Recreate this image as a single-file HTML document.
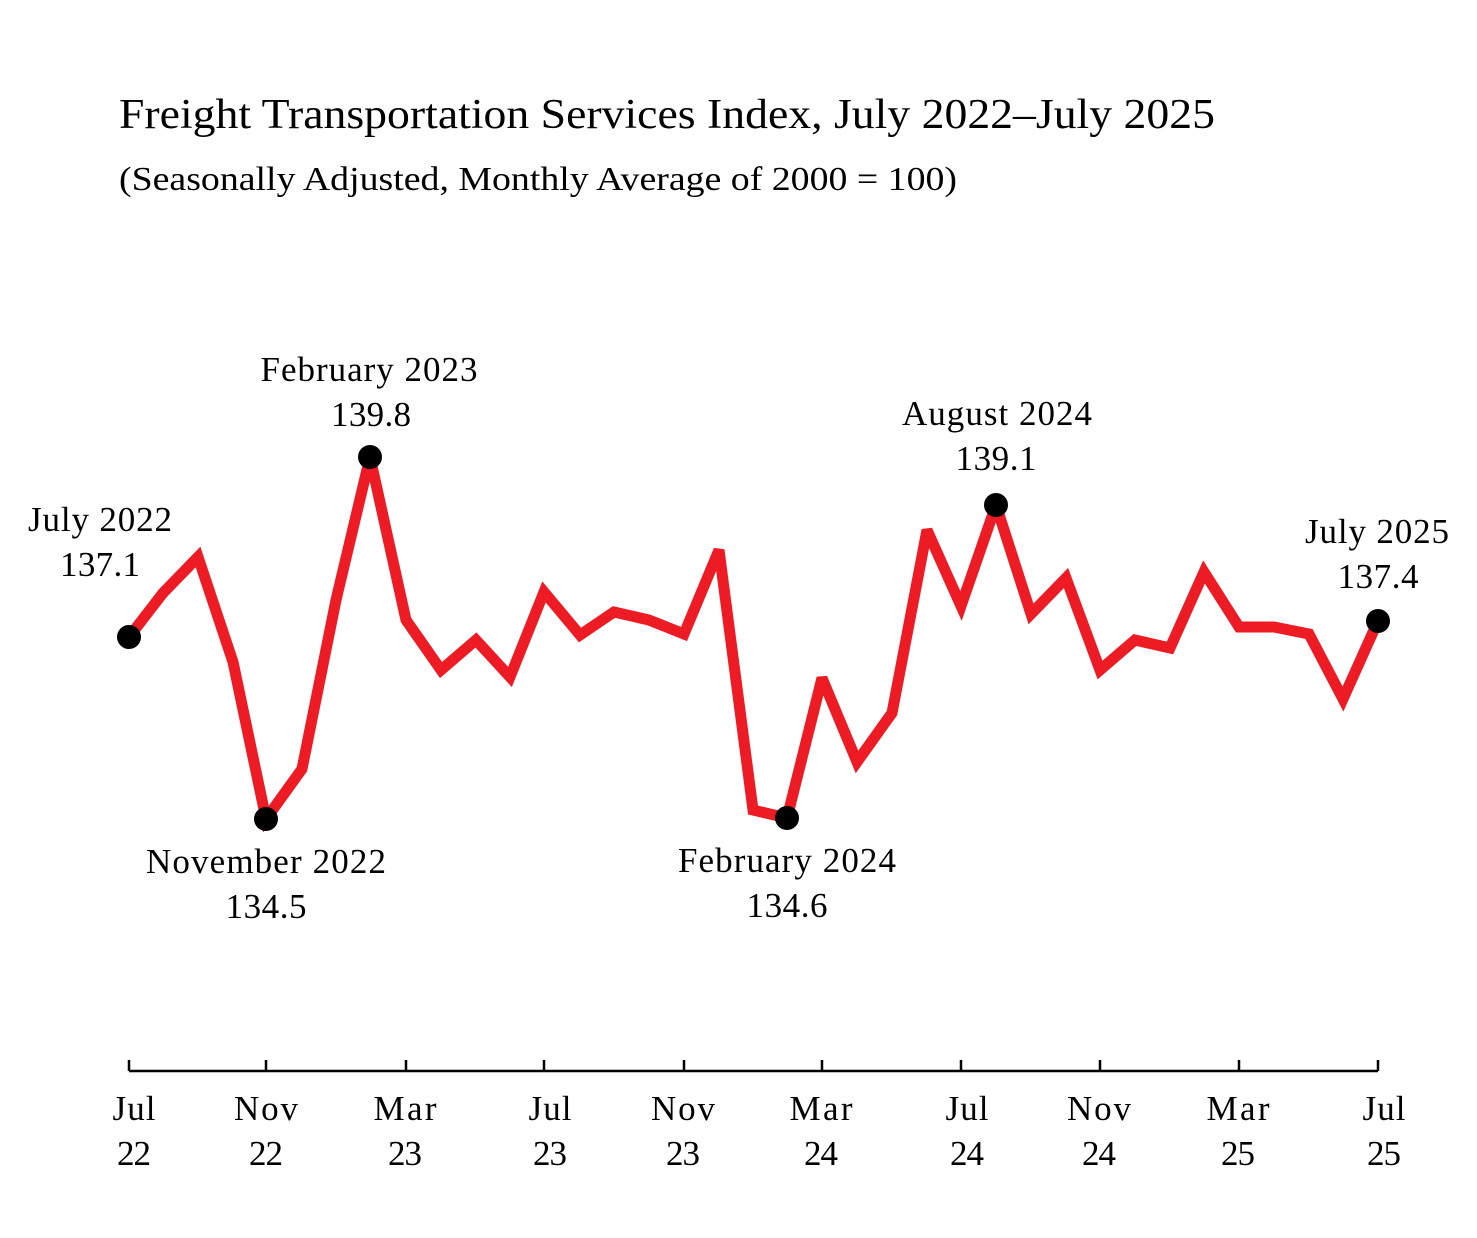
<!DOCTYPE html>
<html><head><style>
body{margin:0;background:#fff;}
svg{display:block;font-family:"Liberation Serif",serif;}
</style></head><body>
<svg width="1477" height="1238" viewBox="0 0 1477 1238">
<text x="119" y="128" font-size="42" textLength="1096" lengthAdjust="spacingAndGlyphs">Freight Transportation Services Index, July 2022–July 2025</text>
<text x="119" y="190" font-size="34" textLength="838" lengthAdjust="spacingAndGlyphs">(Seasonally Adjusted, Monthly Average of 2000 = 100)</text>
<polyline fill="none" stroke="#ed1c24" stroke-width="11" stroke-linejoin="miter" stroke-miterlimit="3" points="129,637 163,593 198,557 233,662 266,819 302,769 336,600 370,457 406,620 441,670 476,640 510,677 544,592 580,635 614,612 649,620 684,634 719,550 753,810 787,818 822,678 857,762 892,713 927,530 961,606 996,505 1031,614 1066,578 1100,670 1135,640 1170,648 1204,572 1239,627 1274,627 1309,634 1343,699 1378,621"/>
<g fill="#000">
<circle cx="129" cy="637" r="12"/><circle cx="266" cy="819" r="12"/><circle cx="370" cy="457" r="12"/><circle cx="787" cy="818" r="12"/><circle cx="996" cy="505" r="12"/><circle cx="1378" cy="621" r="12"/>
</g>
<g font-size="35" text-anchor="middle" lengthAdjust="spacingAndGlyphs">
<text x="100" y="531" textLength="144">July 2022</text><text x="100" y="576" textLength="80">137.1</text>
<text x="369" y="381" textLength="217">February 2023</text><text x="371" y="426" textLength="80">139.8</text>
<text x="266" y="873" textLength="240">November 2022</text><text x="266" y="918" textLength="81">134.5</text>
<text x="787" y="872" textLength="218">February 2024</text><text x="787" y="917" textLength="81">134.6</text>
<text x="997" y="425" textLength="190">August 2024</text><text x="996" y="470" textLength="81">139.1</text>
<text x="1377" y="543" textLength="144">July 2025</text><text x="1378" y="588" textLength="81">137.4</text>
</g>
<g stroke="#000" stroke-width="2.5" fill="none">
<line x1="129" y1="1071" x2="1378" y2="1071"/>
<path d="M129 1060V1071M266 1060V1071M406 1060V1071M544 1060V1071M684 1060V1071M822 1060V1071M961 1060V1071M1100 1060V1071M1239 1060V1071M1378 1060V1071"/>
</g>
<g font-size="35" text-anchor="middle">
<text x="134" y="1120" textLength="43">Jul</text><text x="134" y="1165" textLength="34">22</text>
<text x="266" y="1120" textLength="64">Nov</text><text x="266" y="1165" textLength="34">22</text>
<text x="405" y="1120" textLength="63">Mar</text><text x="405" y="1165" textLength="34">23</text>
<text x="550" y="1120" textLength="43">Jul</text><text x="550" y="1165" textLength="34">23</text>
<text x="683" y="1120" textLength="64">Nov</text><text x="683" y="1165" textLength="34">23</text>
<text x="821" y="1120" textLength="63">Mar</text><text x="821" y="1165" textLength="34">24</text>
<text x="967" y="1120" textLength="43">Jul</text><text x="967" y="1165" textLength="34">24</text>
<text x="1099" y="1120" textLength="64">Nov</text><text x="1099" y="1165" textLength="34">24</text>
<text x="1238" y="1120" textLength="63">Mar</text><text x="1238" y="1165" textLength="34">25</text>
<text x="1384" y="1120" textLength="43">Jul</text><text x="1384" y="1165" textLength="34">25</text>
</g>
</svg>
</body></html>
